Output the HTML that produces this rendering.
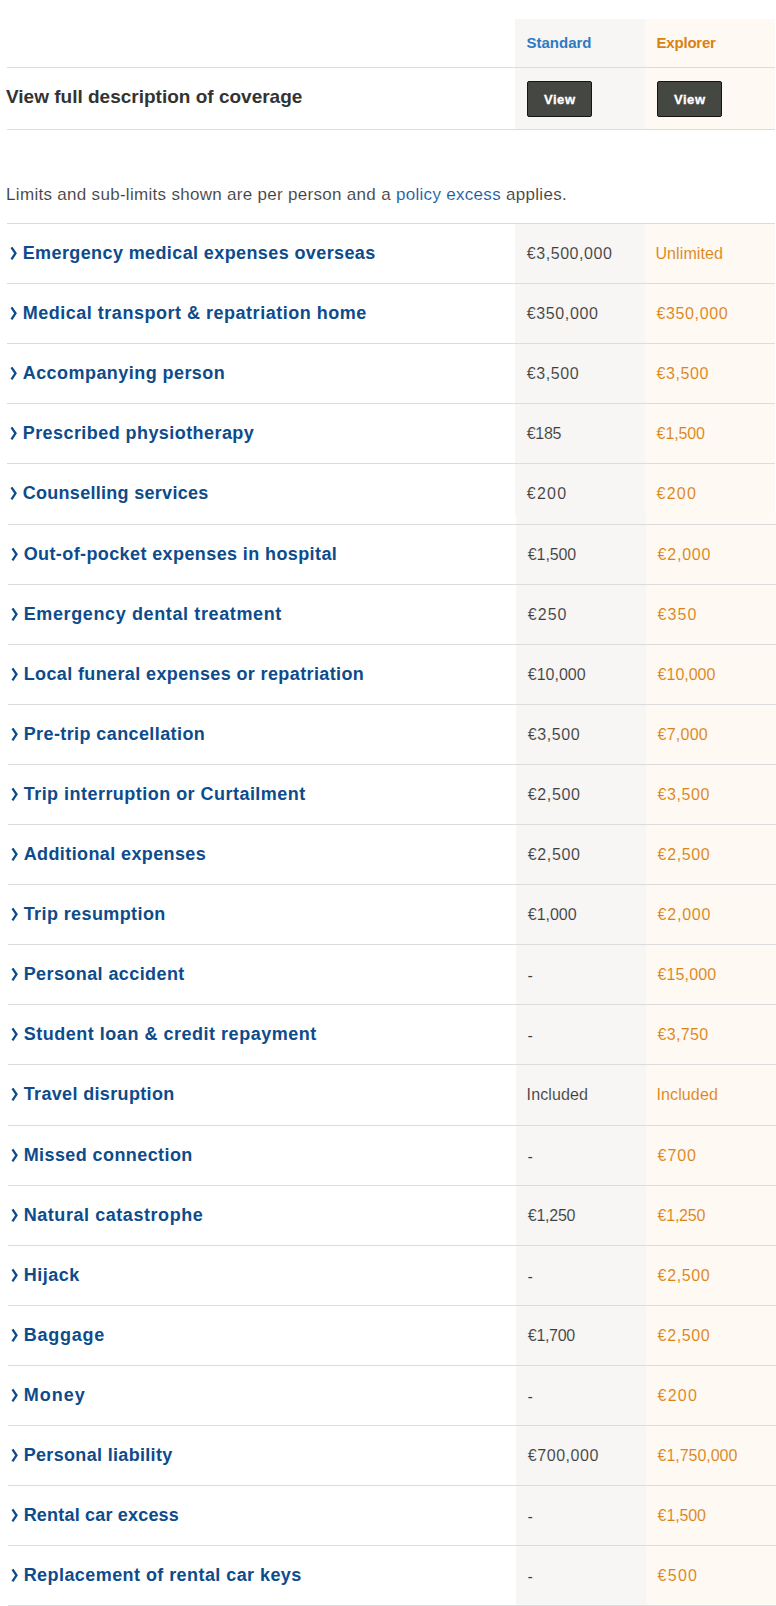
<!DOCTYPE html>
<html lang="en"><head><meta charset="utf-8"><title>Coverage comparison</title>
<style>
html,body{margin:0;padding:0;background:#fff}
body{width:776px;height:1606px;position:relative;overflow:hidden;font-family:"Liberation Sans",sans-serif}
.part{position:absolute;left:0;width:776px;overflow:hidden}
.in{position:absolute;left:0;width:777px}
.bgs{position:absolute;left:515px;width:130px;background:#f7f6f4}
.bge{position:absolute;left:645px;width:131px;background:#fef9f2}
.ln{position:absolute;left:7px;width:768px;height:1px;background:#dcdcdc}
.lab{position:absolute;left:22.7px;white-space:pre;font:bold 18px/22px "Liberation Sans",sans-serif;color:#0d4b8b}
.chev{position:absolute;left:9px;width:10px;height:16px}
.vs,.ve{position:absolute;white-space:pre;font:16px/20px "Liberation Sans",sans-serif}
.vs{left:526.8px;color:#3d3d3d;-webkit-text-stroke:.1px #f7f6f4}
.ve{left:656.6px;color:#da8213;-webkit-text-stroke:.1px #fef9f2}
.hd{position:absolute;white-space:pre;font:bold 15px/20px "Liberation Sans",sans-serif}
.btn{position:absolute;box-sizing:border-box;width:65px;height:36px;top:81px;background:#454742;border:1px solid #151613;border-radius:2px;color:#fff;font:bold 13px/35px "Liberation Sans",sans-serif;letter-spacing:.55px;padding-left:.5px;-webkit-text-stroke:.35px #fff;text-align:center}
.h2{position:absolute;left:6px;top:86px;white-space:pre;font:bold 19px/22px "Liberation Sans",sans-serif;color:#333}
.note{position:absolute;left:6.1px;top:184px;white-space:pre;font:17px/22px "Liberation Sans",sans-serif;letter-spacing:.3px;color:#404040;-webkit-text-stroke:.1px #fff}
.note a{color:#185a9a;text-decoration:none}
</style></head>
<body>
<div class="part" style="top:0;height:514px"><div class="in" style="top:0;height:514px">
<div class="bgs" style="top:19px;height:111px"></div><div class="bge" style="top:19px;height:111px;width:130px"></div>
<div class="bgs" style="top:223px;height:291px"></div><div class="bge" style="top:223px;height:291px;width:130px"></div>
<div class="ln" style="top:67px"></div>
<div class="ln" style="top:129px"></div>
<div class="hd" style="left:526.5px;top:33px;color:#2d7ac4">Standard</div>
<div class="hd" style="left:656.5px;top:33px;color:#d9820f;letter-spacing:-.2px">Explorer</div>
<div class="h2">View full description of coverage</div>
<div class="btn" style="left:527px">View</div><div class="btn" style="left:657px">View</div>
<div class="note">Limits and sub-limits shown are per person and a <a>policy excess</a> applies.</div>
<div class="ln" style="top:223px"></div>
<svg class="chev" style="top:245px" viewBox="0 0 10 16"><path d="M2.45 2.3 L6.5 8.3 L2.45 14.3" fill="none" stroke="#0d4b8b" stroke-width="2.3" stroke-linecap="butt" stroke-linejoin="miter"/></svg>
<div class="lab" style="top:242px;letter-spacing:0.394px">Emergency medical expenses overseas</div>
<div class="vs" style="top:244px;letter-spacing:0.547px">€3,500,000</div>
<div class="ve" style="top:244px;letter-spacing:0.102px;margin-left:-1.2px">Unlimited</div>
<div class="ln" style="top:283px"></div>
<svg class="chev" style="top:305px" viewBox="0 0 10 16"><path d="M2.45 2.3 L6.5 8.3 L2.45 14.3" fill="none" stroke="#0d4b8b" stroke-width="2.3" stroke-linecap="butt" stroke-linejoin="miter"/></svg>
<div class="lab" style="top:302px;letter-spacing:0.515px">Medical transport &amp; repatriation home</div>
<div class="vs" style="top:304px;letter-spacing:0.609px">€350,000</div>
<div class="ve" style="top:304px;letter-spacing:0.609px">€350,000</div>
<div class="ln" style="top:343px"></div>
<svg class="chev" style="top:365px" viewBox="0 0 10 16"><path d="M2.45 2.3 L6.5 8.3 L2.45 14.3" fill="none" stroke="#0d4b8b" stroke-width="2.3" stroke-linecap="butt" stroke-linejoin="miter"/></svg>
<div class="lab" style="top:362px;letter-spacing:0.447px">Accompanying person</div>
<div class="vs" style="top:364px;letter-spacing:0.572px">€3,500</div>
<div class="ve" style="top:364px;letter-spacing:0.572px">€3,500</div>
<div class="ln" style="top:403px"></div>
<svg class="chev" style="top:425px" viewBox="0 0 10 16"><path d="M2.45 2.3 L6.5 8.3 L2.45 14.3" fill="none" stroke="#0d4b8b" stroke-width="2.3" stroke-linecap="butt" stroke-linejoin="miter"/></svg>
<div class="lab" style="top:422px;letter-spacing:0.435px">Prescribed physiotherapy</div>
<div class="vs" style="top:424px;letter-spacing:-0.331px">€185</div>
<div class="ve" style="top:424px;letter-spacing:-0.108px">€1,500</div>
<div class="ln" style="top:463px"></div>
<svg class="chev" style="top:485px" viewBox="0 0 10 16"><path d="M2.45 2.3 L6.5 8.3 L2.45 14.3" fill="none" stroke="#0d4b8b" stroke-width="2.3" stroke-linecap="butt" stroke-linejoin="miter"/></svg>
<div class="lab" style="top:482px;letter-spacing:0.291px">Counselling services</div>
<div class="vs" style="top:484px;letter-spacing:1.235px">€200</div>
<div class="ve" style="top:484px;letter-spacing:1.235px">€200</div>
</div></div>
<div class="part" style="top:514px;height:1092px"><div class="in" style="top:-514px;left:1px;height:1606px">
<div class="bgs" style="top:514px;height:1092px"></div><div class="bge" style="top:514px;height:1092px"></div>
<div class="ln" style="top:524px"></div>
<svg class="chev" style="top:546px" viewBox="0 0 10 16"><path d="M2.45 2.3 L6.5 8.3 L2.45 14.3" fill="none" stroke="#0d4b8b" stroke-width="2.3" stroke-linecap="butt" stroke-linejoin="miter"/></svg>
<div class="lab" style="top:543px;letter-spacing:0.396px">Out-of-pocket expenses in hospital</div>
<div class="vs" style="top:545px;letter-spacing:-0.108px">€1,500</div>
<div class="ve" style="top:545px;letter-spacing:0.772px">€2,000</div>
<div class="ln" style="top:584px"></div>
<svg class="chev" style="top:606px" viewBox="0 0 10 16"><path d="M2.45 2.3 L6.5 8.3 L2.45 14.3" fill="none" stroke="#0d4b8b" stroke-width="2.3" stroke-linecap="butt" stroke-linejoin="miter"/></svg>
<div class="lab" style="top:603px;letter-spacing:0.621px">Emergency dental treatment</div>
<div class="vs" style="top:605px;letter-spacing:1.035px">€250</div>
<div class="ve" style="top:605px;letter-spacing:1.035px">€350</div>
<div class="ln" style="top:644px"></div>
<svg class="chev" style="top:666px" viewBox="0 0 10 16"><path d="M2.45 2.3 L6.5 8.3 L2.45 14.3" fill="none" stroke="#0d4b8b" stroke-width="2.3" stroke-linecap="butt" stroke-linejoin="miter"/></svg>
<div class="lab" style="top:663px;letter-spacing:0.378px">Local funeral expenses or repatriation</div>
<div class="vs" style="top:665px;letter-spacing:-0.007px">€10,000</div>
<div class="ve" style="top:665px;letter-spacing:-0.007px">€10,000</div>
<div class="ln" style="top:704px"></div>
<svg class="chev" style="top:726px" viewBox="0 0 10 16"><path d="M2.45 2.3 L6.5 8.3 L2.45 14.3" fill="none" stroke="#0d4b8b" stroke-width="2.3" stroke-linecap="butt" stroke-linejoin="miter"/></svg>
<div class="lab" style="top:723px;letter-spacing:0.402px">Pre-trip cancellation</div>
<div class="vs" style="top:725px;letter-spacing:0.572px">€3,500</div>
<div class="ve" style="top:725px;letter-spacing:0.233px">€7,000</div>
<div class="ln" style="top:764px"></div>
<svg class="chev" style="top:786px" viewBox="0 0 10 16"><path d="M2.45 2.3 L6.5 8.3 L2.45 14.3" fill="none" stroke="#0d4b8b" stroke-width="2.3" stroke-linecap="butt" stroke-linejoin="miter"/></svg>
<div class="lab" style="top:783px;letter-spacing:0.47px">Trip interruption or Curtailment</div>
<div class="vs" style="top:785px;letter-spacing:0.633px">€2,500</div>
<div class="ve" style="top:785px;letter-spacing:0.572px">€3,500</div>
<div class="ln" style="top:824px"></div>
<svg class="chev" style="top:846px" viewBox="0 0 10 16"><path d="M2.45 2.3 L6.5 8.3 L2.45 14.3" fill="none" stroke="#0d4b8b" stroke-width="2.3" stroke-linecap="butt" stroke-linejoin="miter"/></svg>
<div class="lab" style="top:843px;letter-spacing:0.392px">Additional expenses</div>
<div class="vs" style="top:845px;letter-spacing:0.633px">€2,500</div>
<div class="ve" style="top:845px;letter-spacing:0.633px">€2,500</div>
<div class="ln" style="top:884px"></div>
<svg class="chev" style="top:906px" viewBox="0 0 10 16"><path d="M2.45 2.3 L6.5 8.3 L2.45 14.3" fill="none" stroke="#0d4b8b" stroke-width="2.3" stroke-linecap="butt" stroke-linejoin="miter"/></svg>
<div class="lab" style="top:903px;letter-spacing:0.399px">Trip resumption</div>
<div class="vs" style="top:905px;letter-spacing:-0.028px">€1,000</div>
<div class="ve" style="top:905px;letter-spacing:0.772px">€2,000</div>
<div class="ln" style="top:944px"></div>
<svg class="chev" style="top:966px" viewBox="0 0 10 16"><path d="M2.45 2.3 L6.5 8.3 L2.45 14.3" fill="none" stroke="#0d4b8b" stroke-width="2.3" stroke-linecap="butt" stroke-linejoin="miter"/></svg>
<div class="lab" style="top:963px;letter-spacing:0.408px">Personal accident</div>
<div class="vs" style="top:965px;letter-spacing:0px;margin-top:.6px;margin-left:-.3px">-</div>
<div class="ve" style="top:965px;letter-spacing:0.109px">€15,000</div>
<div class="ln" style="top:1004px"></div>
<svg class="chev" style="top:1026px" viewBox="0 0 10 16"><path d="M2.45 2.3 L6.5 8.3 L2.45 14.3" fill="none" stroke="#0d4b8b" stroke-width="2.3" stroke-linecap="butt" stroke-linejoin="miter"/></svg>
<div class="lab" style="top:1023px;letter-spacing:0.518px">Student loan &amp; credit repayment</div>
<div class="vs" style="top:1025px;letter-spacing:0px;margin-top:.6px;margin-left:-.3px">-</div>
<div class="ve" style="top:1025px;letter-spacing:0.312px">€3,750</div>
<div class="ln" style="top:1064px"></div>
<svg class="chev" style="top:1086px" viewBox="0 0 10 16"><path d="M2.45 2.3 L6.5 8.3 L2.45 14.3" fill="none" stroke="#0d4b8b" stroke-width="2.3" stroke-linecap="butt" stroke-linejoin="miter"/></svg>
<div class="lab" style="top:1083px;letter-spacing:0.348px">Travel disruption</div>
<div class="vs" style="top:1085px;letter-spacing:0.129px;margin-left:-1.2px">Included</div>
<div class="ve" style="top:1085px;letter-spacing:0.129px;margin-left:-1.2px">Included</div>
<div class="ln" style="top:1125px"></div>
<svg class="chev" style="top:1147px" viewBox="0 0 10 16"><path d="M2.45 2.3 L6.5 8.3 L2.45 14.3" fill="none" stroke="#0d4b8b" stroke-width="2.3" stroke-linecap="butt" stroke-linejoin="miter"/></svg>
<div class="lab" style="top:1144px;letter-spacing:0.411px">Missed connection</div>
<div class="vs" style="top:1146px;letter-spacing:0px;margin-top:.6px;margin-left:-.3px">-</div>
<div class="ve" style="top:1146px;letter-spacing:0.935px">€700</div>
<div class="ln" style="top:1185px"></div>
<svg class="chev" style="top:1207px" viewBox="0 0 10 16"><path d="M2.45 2.3 L6.5 8.3 L2.45 14.3" fill="none" stroke="#0d4b8b" stroke-width="2.3" stroke-linecap="butt" stroke-linejoin="miter"/></svg>
<div class="lab" style="top:1204px;letter-spacing:0.558px">Natural catastrophe</div>
<div class="vs" style="top:1206px;letter-spacing:-0.247px">€1,250</div>
<div class="ve" style="top:1206px;letter-spacing:-0.247px">€1,250</div>
<div class="ln" style="top:1245px"></div>
<svg class="chev" style="top:1267px" viewBox="0 0 10 16"><path d="M2.45 2.3 L6.5 8.3 L2.45 14.3" fill="none" stroke="#0d4b8b" stroke-width="2.3" stroke-linecap="butt" stroke-linejoin="miter"/></svg>
<div class="lab" style="top:1264px;letter-spacing:0.511px">Hijack</div>
<div class="vs" style="top:1266px;letter-spacing:0px;margin-top:.6px;margin-left:-.3px">-</div>
<div class="ve" style="top:1266px;letter-spacing:0.633px">€2,500</div>
<div class="ln" style="top:1305px"></div>
<svg class="chev" style="top:1327px" viewBox="0 0 10 16"><path d="M2.45 2.3 L6.5 8.3 L2.45 14.3" fill="none" stroke="#0d4b8b" stroke-width="2.3" stroke-linecap="butt" stroke-linejoin="miter"/></svg>
<div class="lab" style="top:1324px;letter-spacing:0.761px">Baggage</div>
<div class="vs" style="top:1326px;letter-spacing:-0.308px">€1,700</div>
<div class="ve" style="top:1326px;letter-spacing:0.633px">€2,500</div>
<div class="ln" style="top:1365px"></div>
<svg class="chev" style="top:1387px" viewBox="0 0 10 16"><path d="M2.45 2.3 L6.5 8.3 L2.45 14.3" fill="none" stroke="#0d4b8b" stroke-width="2.3" stroke-linecap="butt" stroke-linejoin="miter"/></svg>
<div class="lab" style="top:1384px;letter-spacing:1.021px">Money</div>
<div class="vs" style="top:1386px;letter-spacing:0px;margin-top:.6px;margin-left:-.3px">-</div>
<div class="ve" style="top:1386px;letter-spacing:1.235px">€200</div>
<div class="ln" style="top:1425px"></div>
<svg class="chev" style="top:1447px" viewBox="0 0 10 16"><path d="M2.45 2.3 L6.5 8.3 L2.45 14.3" fill="none" stroke="#0d4b8b" stroke-width="2.3" stroke-linecap="butt" stroke-linejoin="miter"/></svg>
<div class="lab" style="top:1444px;letter-spacing:0.326px">Personal liability</div>
<div class="vs" style="top:1446px;letter-spacing:0.552px">€700,000</div>
<div class="ve" style="top:1446px;letter-spacing:-0.042px">€1,750,000</div>
<div class="ln" style="top:1485px"></div>
<svg class="chev" style="top:1507px" viewBox="0 0 10 16"><path d="M2.45 2.3 L6.5 8.3 L2.45 14.3" fill="none" stroke="#0d4b8b" stroke-width="2.3" stroke-linecap="butt" stroke-linejoin="miter"/></svg>
<div class="lab" style="top:1504px;letter-spacing:0.187px">Rental car excess</div>
<div class="vs" style="top:1506px;letter-spacing:0px;margin-top:.6px;margin-left:-.3px">-</div>
<div class="ve" style="top:1506px;letter-spacing:-0.108px">€1,500</div>
<div class="ln" style="top:1545px"></div>
<svg class="chev" style="top:1567px" viewBox="0 0 10 16"><path d="M2.45 2.3 L6.5 8.3 L2.45 14.3" fill="none" stroke="#0d4b8b" stroke-width="2.3" stroke-linecap="butt" stroke-linejoin="miter"/></svg>
<div class="lab" style="top:1564px;letter-spacing:0.43px">Replacement of rental car keys</div>
<div class="vs" style="top:1566px;letter-spacing:0px;margin-top:.6px;margin-left:-.3px">-</div>
<div class="ve" style="top:1566px;letter-spacing:1.269px">€500</div>
<div class="ln" style="top:1605px"></div>
</div></div>
</body></html>
